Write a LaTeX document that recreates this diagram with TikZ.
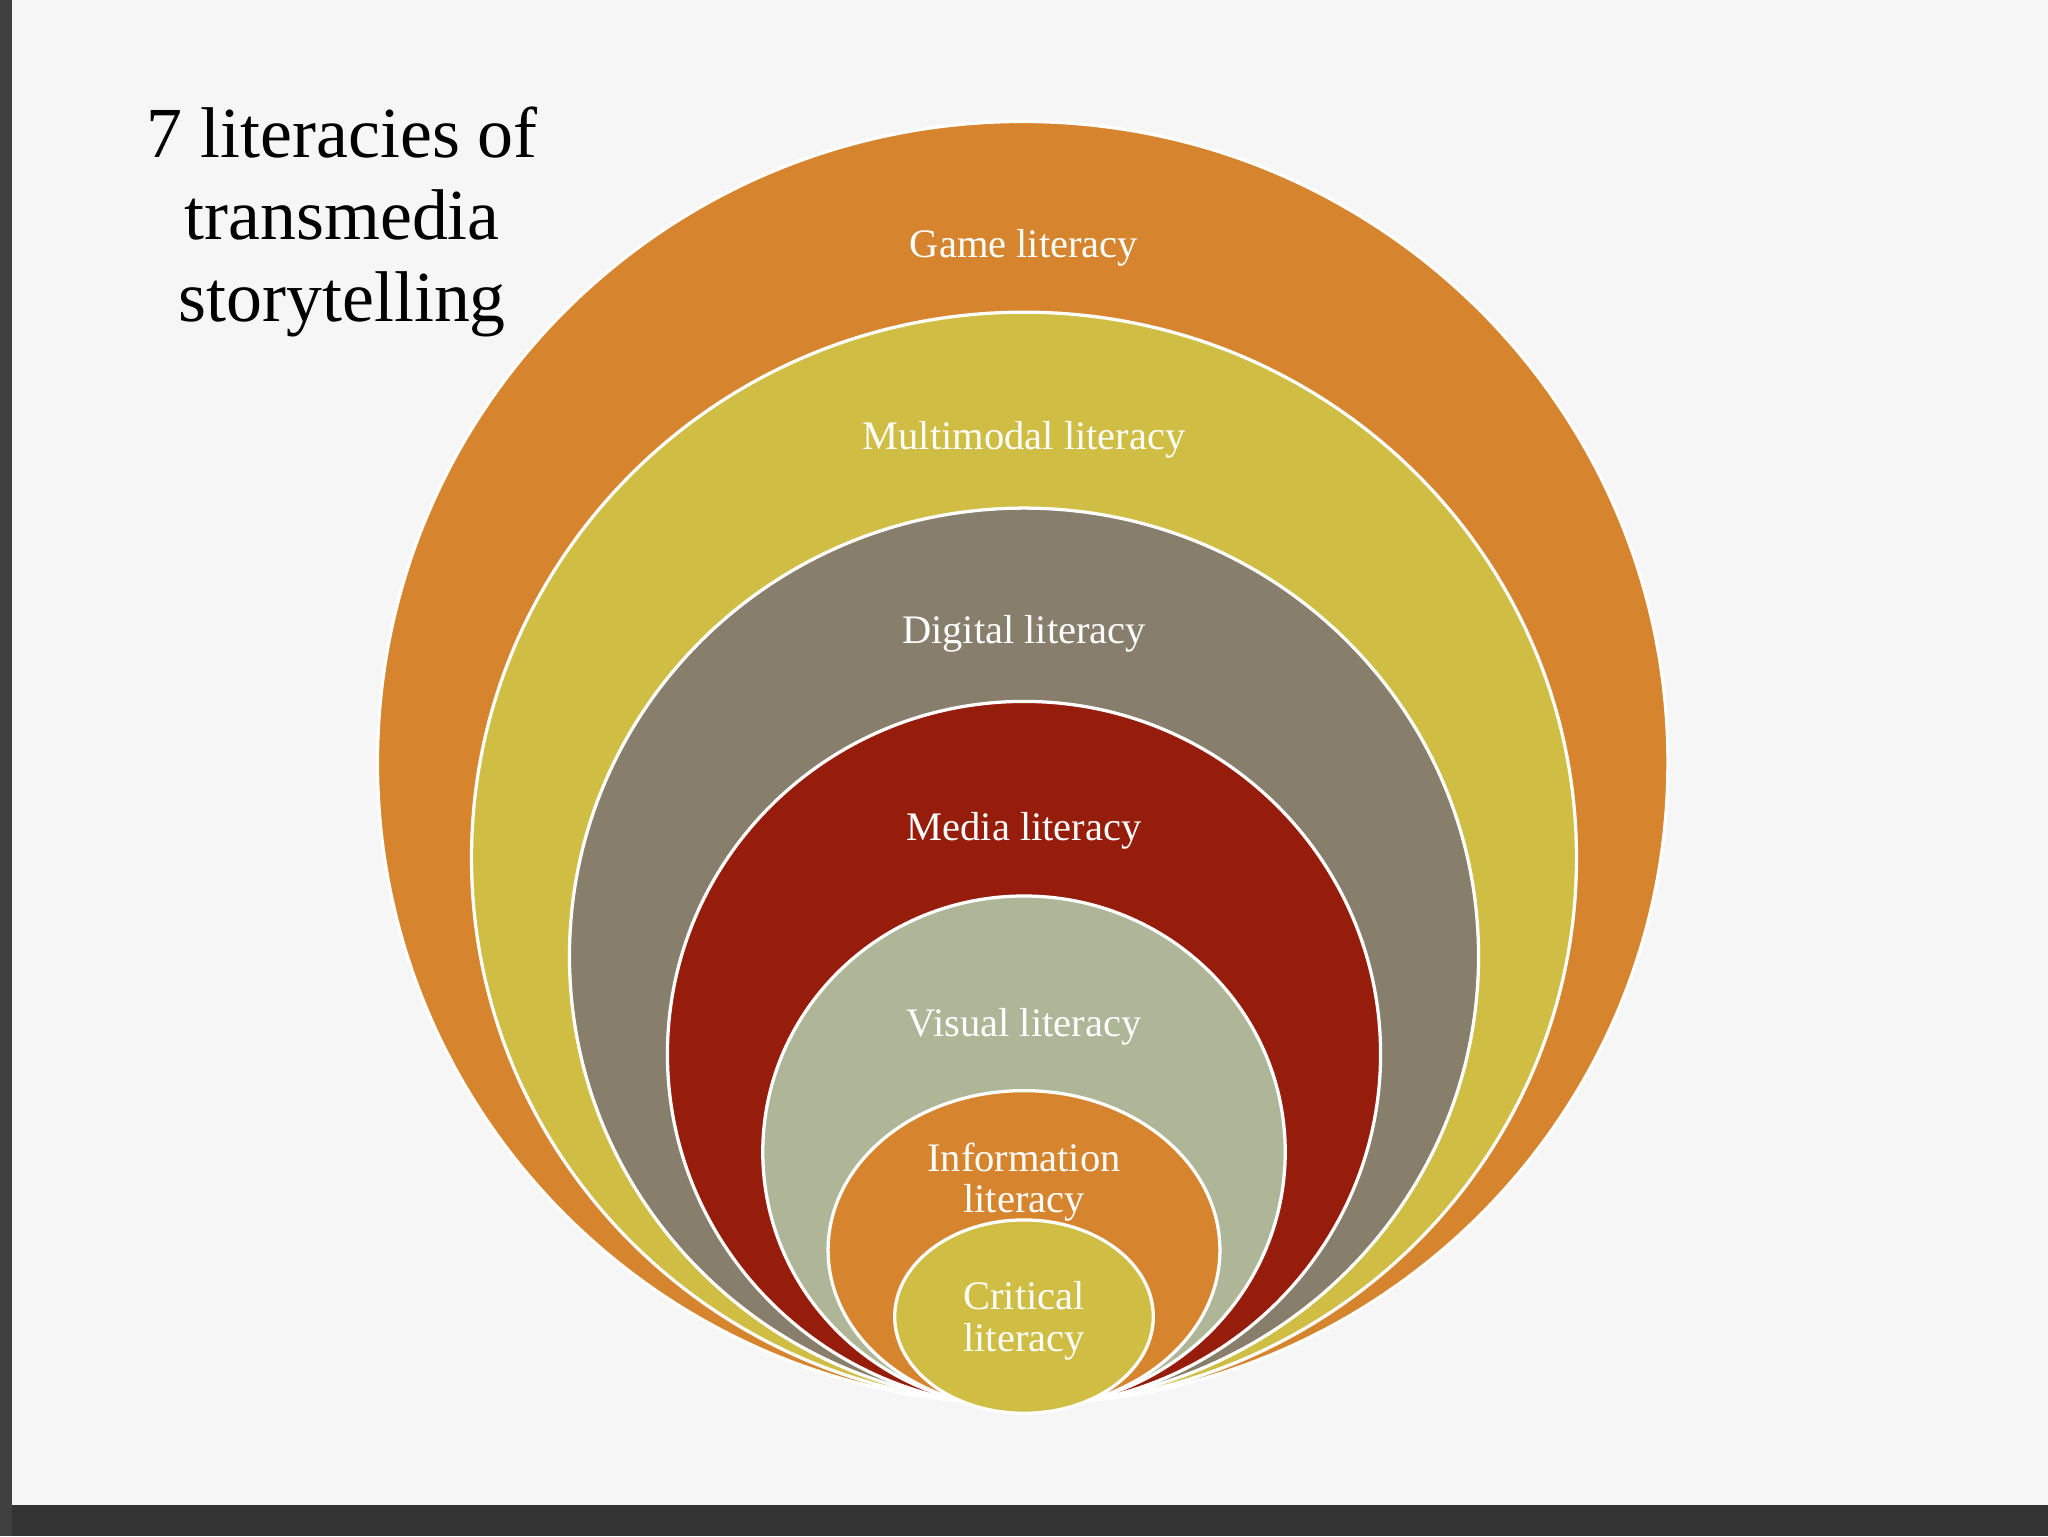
\documentclass[tikz,border=0pt]{standalone}
\usepackage{fontspec}
\setmainfont{Liberation Serif}
\begin{document}
\begin{tikzpicture}[x=1pt,y=-1pt,
  ring/.style={draw=white,line width=2.5pt},
  lab/.style={text=white,font=\fontsize{31}{32}\selectfont,align=center}]
\fill[white!93!gray] (0,0) rectangle (1568,1176);
\useasboundingbox (0,0) rectangle (1568,1176);
\fill[black!80] (0,1152) rectangle (1568,1176);
\fill[black!75] (0,0) rectangle (9,1176);
\definecolor{corange}{HTML}{D6842E}
\definecolor{cyellow}{HTML}{CFBD44}
\definecolor{cgray}{HTML}{877E6B}
\definecolor{cred}{HTML}{961D0B}
\definecolor{csage}{HTML}{AFB597}
\fill[corange,ring] (783,584) ellipse [x radius=494pt, y radius=491pt];
\fill[cyellow,ring] (784,657) ellipse [x radius=423pt, y radius=418pt];
\fill[cgray,ring] (784,732) ellipse [x radius=348pt, y radius=343pt];
\fill[cred,ring] (784,807) ellipse [x radius=273pt, y radius=270pt];
\fill[csage,ring] (784,882) ellipse [x radius=200pt, y radius=196pt];
\fill[corange,ring] (784,957) ellipse [x radius=150pt, y radius=122pt];
\fill[cyellow,ring] (784,1008) ellipse [x radius=99pt, y radius=74pt];
\node[lab] (g) at (784,190) {Game literacy};
\node[lab] (m) at (784,337) {Multimodal literacy};
\node[lab] (d) at (784,485) {Digital literacy};
\node[lab] (me) at (784,636) {Media literacy};
\node[lab] (v) at (784,786) {Visual literacy};
\node[lab] (i) at (784,905) {Information\\literacy};
\node[lab] (c) at (784,1011) {Critical\\literacy};
\node[align=center,font=\fontsize{55}{63}\selectfont] (t) at (262,170) {7 literacies of\\transmedia\\storytelling};
\end{tikzpicture}
\end{document}
